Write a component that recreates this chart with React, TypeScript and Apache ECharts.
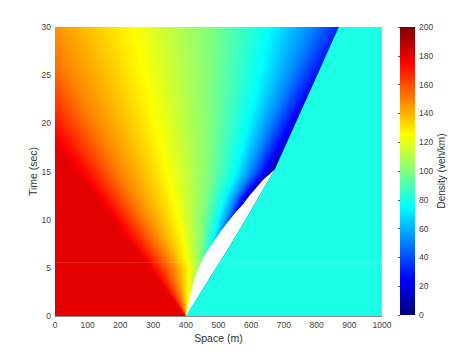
import React, { useEffect, useRef } from "react";
import * as echarts from "echarts";

const FONT = "'Liberation Sans', Arial, Helvetica, sans-serif";

// Axis ranges / ticks
const SPACE_MIN = 0;
const SPACE_MAX = 1000;
const SPACE_STEP = 100;
const TIME_MIN = 0;
const TIME_MAX = 30;
const TIME_STEP = 5;
const DENSITY_MIN = 0;
const DENSITY_MAX = 200;
const DENSITY_STEP = 20;

// Constant states (veh/km)
const LEFT_DENSITY = 180;
const RIGHT_DENSITY = 80;

// Fan: positions (m) of density iso-lines, read at these times (sec)
const ISO_TIMES = [0, 5, 10, 12.5, 15, 20, 25, 30];
const ISO_LEVELS = [LEFT_DENSITY, 150, 125, 100, 75, 50, 25, 5];
const ISO_X_180 = [400, 289, 178, 122, 67, -44, -155, -266];
const ISO_X_150 = [402, 362, 278, 237, 197, 120, 42, -35];
const ISO_X_125 = [404, 410, 379, 361, 344, 309, 274, 239];
const ISO_X_100 = [406, 446, 452, 462, 472, 476, 476, 477];
const ISO_X_75 = [408, 462, 498, 520, 552, 590, 625, 655];
const ISO_X_50 = [410, 472, 525, 555, 600, 660, 725, 790];
const ISO_X_25 = [412, 482, 545, 578, 640, 720, 805, 895];
const ISO_X_5 = [414, 492, 565, 598, 660, 770, 860, 950];

// Left edge of the empty (white) gap: space (m) and time (sec)
const GAP_EDGE_X = [400, 404, 410, 418, 428, 440, 453, 469, 487, 507, 530, 553, 575, 595, 615, 635, 655, 672];
const GAP_EDGE_T = [0, 0.6, 1.5, 2.8, 4.0, 5.0, 6.0, 6.9, 7.8, 8.8, 9.8, 10.8, 11.6, 12.5, 13.3, 14.1, 14.7, 15.2];

// Shock bounding the downstream state
const SHOCK_X = [400, 530, 600, 672, 868];
const SHOCK_T = [0, 7.0, 11.0, 15.2, 30];

// faint horizontal artefact line in the picture
const ARTEFACT_T = 5.6;

const ISO_ROWS = [ISO_X_180, ISO_X_150, ISO_X_125, ISO_X_100, ISO_X_75, ISO_X_50, ISO_X_25, ISO_X_5];

function clamp01(v: number) {
  return Math.max(0, Math.min(1, v));
}
function jet(v: number): string {
  const r = clamp01(Math.min(4 * v - 1.5, -4 * v + 4.5));
  const g = clamp01(Math.min(4 * v - 0.5, -4 * v + 3.5));
  const b = clamp01(Math.min(4 * v + 0.5, -4 * v + 2.5));
  return `rgb(${Math.round(r * 255)},${Math.round(g * 255)},${Math.round(b * 255)})`;
}
function densColor(d: number) {
  return jet((d - DENSITY_MIN) / (DENSITY_MAX - DENSITY_MIN));
}
const JET_BREAKS = [0.125, 0.375, 0.625, 0.875].map((f) => DENSITY_MIN + f * (DENSITY_MAX - DENSITY_MIN));

function isoAt(t: number): number[] {
  let i = 0;
  while (i < ISO_TIMES.length - 2 && t > ISO_TIMES[i + 1]) i++;
  const f = (t - ISO_TIMES[i]) / (ISO_TIMES[i + 1] - ISO_TIMES[i]);
  return ISO_ROWS.map((row) => row[i] + (row[i + 1] - row[i]) * f);
}
function densityAt(x: number, xs: number[]): number {
  const L = ISO_LEVELS;
  if (x <= xs[0]) return L[0];
  for (let k = 0; k < xs.length - 1; k++) {
    if (x <= xs[k + 1]) {
      const span = xs[k + 1] - xs[k];
      if (span <= 0) return L[k + 1];
      return L[k] + ((L[k + 1] - L[k]) * (x - xs[k])) / span;
    }
  }
  return L[L.length - 1];
}

const STRIP_STEP = 0.1;
const STRIPS: number[][] = [];
for (let i = 0; i < Math.round((TIME_MAX - TIME_MIN) / STRIP_STEP); i++) {
  STRIPS.push([TIME_MIN + i * STRIP_STEP, TIME_MIN + (i + 1) * STRIP_STEP]);
}

export default function App() {
  const ref = useRef<HTMLDivElement>(null);
  useEffect(() => {
    if (!ref.current) return;
    const chart = echarts.init(ref.current, null, { renderer: "svg" });

    const renderStrip = (params: any, api: any) => {
      const ta = api.value(0);
      const tb = api.value(1);
      const tm = (ta + tb) / 2;
      const xs = isoAt(tm);
      const pos: number[] = [SPACE_MIN, SPACE_MAX];
      xs.forEach((x) => pos.push(x));
      for (let k = 0; k < xs.length - 1; k++) {
        const hi = ISO_LEVELS[k];
        const lo = ISO_LEVELS[k + 1];
        JET_BREAKS.forEach((bp) => {
          if (bp < hi && bp > lo) pos.push(xs[k] + ((hi - bp) / (hi - lo)) * (xs[k + 1] - xs[k]));
        });
      }
      const pts = pos
        .filter((x) => x >= SPACE_MIN && x <= SPACE_MAX)
        .sort((a, b) => a - b)
        .filter((x, i, arr) => i === 0 || x - arr[i - 1] > 1e-6);
      const stops = pts.map((x) => ({
        offset: (x - SPACE_MIN) / (SPACE_MAX - SPACE_MIN),
        color: densColor(densityAt(x, xs)),
      }));
      const p0 = api.coord([SPACE_MIN, tb]);
      const p1 = api.coord([SPACE_MAX, ta]);
      const y0 = Math.floor(p0[1]);
      return {
        type: "rect",
        shape: { x: p0[0], y: y0, width: p1[0] - p0[0], height: Math.max(1, p1[1] - y0) + 1.2 },
        style: { fill: new echarts.graphic.LinearGradient(0, 0, 1, 0, stops) },
      };
    };

    const renderOverlay = (params: any, api: any) => {
      const idx = params.dataIndex;
      if (idx === 0) {
        const pts: number[][] = [];
        const tipT = GAP_EDGE_T[GAP_EDGE_T.length - 1];
        for (let i = 0; i < GAP_EDGE_X.length; i++) pts.push(api.coord([GAP_EDGE_X[i], GAP_EDGE_T[i]]));
        for (let i = SHOCK_X.length - 1; i >= 0; i--) {
          if (SHOCK_T[i] <= tipT) pts.push(api.coord([SHOCK_X[i], SHOCK_T[i]]));
        }
        return { type: "polygon", shape: { points: pts }, style: { fill: "#ffffff" } };
      }
      if (idx === 1) {
        const pts: number[][] = [];
        for (let i = 0; i < SHOCK_X.length; i++) pts.push(api.coord([SHOCK_X[i], SHOCK_T[i]]));
        pts.push(api.coord([SPACE_MAX, TIME_MAX]));
        pts.push(api.coord([SPACE_MAX, TIME_MIN]));
        return { type: "polygon", shape: { points: pts }, style: { fill: densColor(RIGHT_DENSITY) } };
      }
      const a = api.coord([SPACE_MIN, ARTEFACT_T]);
      const b = api.coord([SPACE_MAX, ARTEFACT_T]);
      return {
        type: "line",
        shape: { x1: a[0], y1: Math.round(a[1]) + 0.5, x2: b[0], y2: Math.round(b[1]) + 0.5 },
        style: { stroke: "rgba(255,255,255,0.12)", lineWidth: 1 },
      };
    };

    const renderBar = (params: any, api: any) => {
      const p0 = api.coord([0, DENSITY_MAX]);
      const p1 = api.coord([1, DENSITY_MIN]);
      const stops = [DENSITY_MAX, ...JET_BREAKS.slice().reverse(), DENSITY_MIN].map((d) => ({
        offset: (DENSITY_MAX - d) / (DENSITY_MAX - DENSITY_MIN),
        color: densColor(d),
      }));
      return {
        type: "rect",
        shape: { x: p0[0], y: p0[1], width: p1[0] - p0[0], height: p1[1] - p0[1] },
        style: { fill: new echarts.graphic.LinearGradient(0, 0, 0, 1, stops) },
      };
    };

    const labelStyle = { fontFamily: FONT, fontSize: 8.5, color: "#444" };
    const nameStyle = { fontFamily: FONT, fontSize: 10.5, color: "#333" };
    const plain = (v: number) => String(v);

    chart.setOption({
      animation: false,
      backgroundColor: "#ffffff",
      textStyle: { fontFamily: FONT },
      grid: [
        { left: 55, top: 27, width: 327, height: 289 },
        { left: 400, top: 27, width: 15, height: 288 },
      ],
      xAxis: [
        {
          gridIndex: 0,
          type: "value",
          min: SPACE_MIN,
          max: SPACE_MAX,
          interval: SPACE_STEP,
          name: "Space (m)",
          nameLocation: "middle",
          nameGap: 16,
          nameMoveOverlap: false,
          nameTextStyle: nameStyle,
          axisLine: { show: true, onZero: false, lineStyle: { color: "#8a8a8a", width: 1 } },
          axisTick: { show: false },
          axisLabel: { ...labelStyle, margin: 4, formatter: plain },
          splitLine: { show: false },
          z: 10,
        },
        { gridIndex: 1, type: "value", min: 0, max: 1, show: false },
      ],
      yAxis: [
        {
          gridIndex: 0,
          type: "value",
          min: TIME_MIN,
          max: TIME_MAX,
          interval: TIME_STEP,
          name: "Time (sec)",
          nameLocation: "middle",
          nameGap: 17,
          nameMoveOverlap: false,
          nameTextStyle: nameStyle,
          axisLine: { show: false },
          axisTick: { show: false },
          axisLabel: { ...labelStyle, margin: 4, formatter: plain },
          splitLine: { show: false },
        },
        {
          gridIndex: 1,
          type: "value",
          position: "right",
          min: DENSITY_MIN,
          max: DENSITY_MAX,
          interval: DENSITY_STEP,
          name: "Density (veh/km)",
          nameLocation: "middle",
          nameGap: 21,
          nameRotate: 90,
          nameMoveOverlap: false,
          nameTextStyle: { ...nameStyle, fontSize: 10 },
          axisLine: { show: false },
          axisTick: { show: true, inside: true, length: 2, lineStyle: { color: "#555" } },
          axisLabel: { ...labelStyle, margin: 4, formatter: plain },
          splitLine: { show: false },
          z: 10,
        },
      ],
      series: [
        {
          type: "custom",
          xAxisIndex: 0,
          yAxisIndex: 0,
          clip: true,
          silent: true,
          data: STRIPS,
          renderItem: renderStrip,
          z: 1,
        },
        {
          type: "custom",
          xAxisIndex: 0,
          yAxisIndex: 0,
          clip: true,
          silent: true,
          data: [[0], [1], [2]],
          renderItem: renderOverlay,
          z: 2,
        },
        {
          type: "custom",
          xAxisIndex: 1,
          yAxisIndex: 1,
          silent: true,
          data: [[0]],
          renderItem: renderBar,
          z: 1,
        },
      ],
    });
    return () => chart.dispose();
  }, []);
  return (
    <div
      ref={ref}
      style={{ position: "fixed", left: 0, top: 0, width: 474, height: 355, background: "#fff" }}
    />
  );
}
